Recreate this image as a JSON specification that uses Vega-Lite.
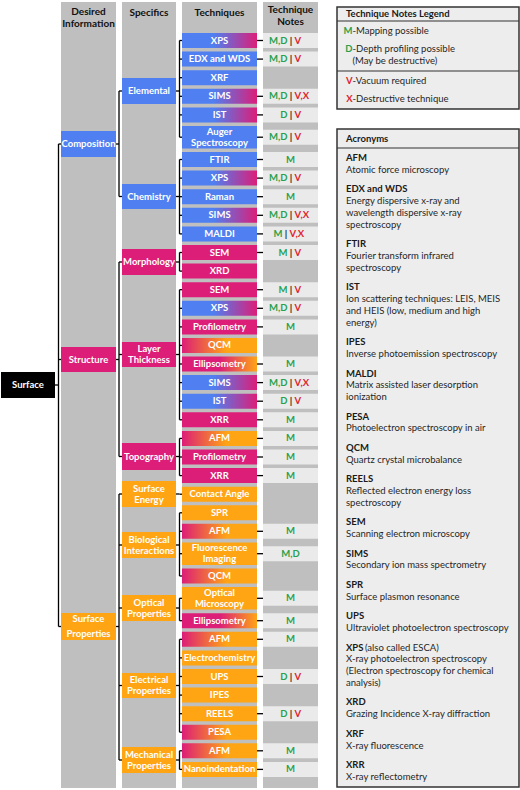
{
"$schema": "https://vega.github.io/schema/vega-lite/v6.json",
"width": 520, "height": 790, "padding": 0,
"autosize": {"type": "fit", "contains": "padding"},
"background": "#FFFFFF",
"config": {"view": {"stroke": null}, "axis": {"disable": true}, "text": {"font": "Lato"}},
"datasets": {
"cols": [
{"col": "Desired\nInformation", "x0": 61, "x1": 116, "xc": 88.5, "y0": 2, "y1": 788, "hy": 12},
{"col": "Specifics", "x0": 122, "x1": 176, "xc": 149, "y0": 2, "y1": 788, "hy": 13},
{"col": "Techniques", "x0": 182, "x1": 257, "xc": 219.5, "y0": 2, "y1": 788, "hy": 12.5},
{"col": "Technique\nNotes", "x0": 263, "x1": 318, "xc": 290.5, "y0": 2, "y1": 788, "hy": 10}
],
"surface": [{"name": "Surface", "y0": 372, "y1": 398, "yc": 385}],
"desired": [
{"name": "Composition", "fam": "Composition", "y0": 131, "y1": 157, "yc": 144},
{"name": "Structure", "fam": "Structure", "y0": 347, "y1": 372, "yc": 359.5},
{"name": "Surface\nProperties", "fam": "Surface Properties", "y0": 613, "y1": 640, "yc": 626.5}
],
"specifics": [
{"name": "Elemental", "fam": "Composition", "y0": 78, "y1": 104, "yc": 91},
{"name": "Chemistry", "fam": "Composition", "y0": 184, "y1": 209, "yc": 196.5},
{"name": "Morphology", "fam": "Structure", "y0": 249, "y1": 275, "yc": 262},
{"name": "Layer\nThickness", "fam": "Structure", "y0": 342, "y1": 367, "yc": 354.5},
{"name": "Topography", "fam": "Structure", "y0": 443, "y1": 470, "yc": 456.5},
{"name": "Surface\nEnergy", "fam": "Surface Properties", "y0": 481, "y1": 507, "yc": 494},
{"name": "Biological\nInteractions", "fam": "Surface Properties", "y0": 532, "y1": 558, "yc": 545},
{"name": "Optical\nProperties", "fam": "Surface Properties", "y0": 595, "y1": 621, "yc": 608},
{"name": "Electrical\nProperties", "fam": "Surface Properties", "y0": 673, "y1": 698, "yc": 685.5},
{"name": "Mechanical\nProperties", "fam": "Surface Properties", "y0": 747, "y1": 773, "yc": 760}
],
"tech": [
{"name": "XPS", "group": "Elemental", "fam": "Composition", "fam2": "Structure", "y0": 33, "y1": 48, "yc": 40.5, "m": "M,D", "v": "V"},
{"name": "EDX and WDS", "group": "Elemental", "fam": "Composition", "fam2": "Composition", "y0": 51.6, "y1": 66.6, "yc": 59.1, "m": "M,D", "v": "V"},
{"name": "XRF", "group": "Elemental", "fam": "Composition", "fam2": "Composition", "y0": 70.2, "y1": 85.2, "yc": 77.7},
{"name": "SIMS", "group": "Elemental", "fam": "Composition", "fam2": "Structure", "y0": 88.8, "y1": 103.8, "yc": 96.3, "m": "M,D", "v": "V,X"},
{"name": "IST", "group": "Elemental", "fam": "Composition", "fam2": "Structure", "y0": 107.4, "y1": 122.4, "yc": 114.9, "m": "D", "v": "V"},
{"name": "Auger\nSpectroscopy", "group": "Elemental", "fam": "Composition", "fam2": "Composition", "y0": 126, "y1": 148.5, "yc": 137.2, "m": "M,D", "v": "V"},
{"name": "FTIR", "group": "Chemistry", "fam": "Composition", "fam2": "Composition", "y0": 152, "y1": 167, "yc": 159.5, "m": "M"},
{"name": "XPS", "group": "Chemistry", "fam": "Composition", "fam2": "Structure", "y0": 170.6, "y1": 185.6, "yc": 178.1, "m": "M,D", "v": "V"},
{"name": "Raman", "group": "Chemistry", "fam": "Composition", "fam2": "Composition", "y0": 189.2, "y1": 204.2, "yc": 196.7, "m": "M"},
{"name": "SIMS", "group": "Chemistry", "fam": "Composition", "fam2": "Structure", "y0": 207.8, "y1": 222.8, "yc": 215.3, "m": "M,D", "v": "V,X"},
{"name": "MALDI", "group": "Chemistry", "fam": "Composition", "fam2": "Composition", "y0": 226.4, "y1": 241.4, "yc": 233.9, "m": "M", "v": "V,X"},
{"name": "SEM", "group": "Morphology", "fam": "Structure", "fam2": "Structure", "y0": 245, "y1": 260, "yc": 252.5, "m": "M", "v": "V"},
{"name": "XRD", "group": "Morphology", "fam": "Structure", "fam2": "Structure", "y0": 263.6, "y1": 278.6, "yc": 271.1},
{"name": "SEM", "group": "Layer Thickness", "fam": "Structure", "fam2": "Structure", "y0": 282.2, "y1": 297.2, "yc": 289.7, "m": "M", "v": "V"},
{"name": "XPS", "group": "Layer Thickness", "fam": "Composition", "fam2": "Structure", "y0": 300.8, "y1": 315.8, "yc": 308.3, "m": "M,D", "v": "V"},
{"name": "Profilometry", "group": "Layer Thickness", "fam": "Structure", "fam2": "Structure", "y0": 319.4, "y1": 334.4, "yc": 326.9, "m": "M"},
{"name": "QCM", "group": "Layer Thickness", "fam": "Structure", "fam2": "Surface Properties", "y0": 337.9, "y1": 352.9, "yc": 345.4},
{"name": "Ellipsometry", "group": "Layer Thickness", "fam": "Structure", "fam2": "Surface Properties", "y0": 356.5, "y1": 371.5, "yc": 364, "m": "M"},
{"name": "SIMS", "group": "Layer Thickness", "fam": "Composition", "fam2": "Structure", "y0": 375.1, "y1": 390.1, "yc": 382.6, "m": "M,D", "v": "V,X"},
{"name": "IST", "group": "Layer Thickness", "fam": "Composition", "fam2": "Structure", "y0": 393.7, "y1": 408.7, "yc": 401.2, "m": "D", "v": "V"},
{"name": "XRR", "group": "Layer Thickness", "fam": "Structure", "fam2": "Structure", "y0": 412.3, "y1": 427.3, "yc": 419.8, "m": "M"},
{"name": "AFM", "group": "Topography", "fam": "Structure", "fam2": "Surface Properties", "y0": 430.9, "y1": 445.9, "yc": 438.4, "m": "M"},
{"name": "Profilometry", "group": "Topography", "fam": "Structure", "fam2": "Structure", "y0": 449.5, "y1": 464.5, "yc": 457, "m": "M"},
{"name": "XRR", "group": "Topography", "fam": "Structure", "fam2": "Structure", "y0": 468.1, "y1": 483.1, "yc": 475.6, "m": "M"},
{"name": "Contact Angle", "group": "Surface Energy", "fam": "Surface Properties", "fam2": "Surface Properties", "y0": 486.7, "y1": 501.7, "yc": 494.2},
{"name": "SPR", "group": "Biological Interactions", "fam": "Surface Properties", "fam2": "Surface Properties", "y0": 505.3, "y1": 520.3, "yc": 512.8},
{"name": "AFM", "group": "Biological Interactions", "fam": "Structure", "fam2": "Surface Properties", "y0": 523.8, "y1": 538.8, "yc": 531.3, "m": "M"},
{"name": "Fluorescence\nImaging", "group": "Biological Interactions", "fam": "Surface Properties", "fam2": "Surface Properties", "y0": 542.4, "y1": 564.9, "yc": 553.7, "m": "M,D"},
{"name": "QCM", "group": "Biological Interactions", "fam": "Structure", "fam2": "Surface Properties", "y0": 568.5, "y1": 583.5, "yc": 576},
{"name": "Optical\nMicroscopy", "group": "Optical Properties", "fam": "Surface Properties", "fam2": "Surface Properties", "y0": 587.1, "y1": 609.6, "yc": 598.3, "m": "M"},
{"name": "Ellipsometry", "group": "Optical Properties", "fam": "Structure", "fam2": "Surface Properties", "y0": 613.2, "y1": 628.2, "yc": 620.7, "m": "M"},
{"name": "AFM", "group": "Electrical Properties", "fam": "Structure", "fam2": "Surface Properties", "y0": 631.8, "y1": 646.8, "yc": 639.3, "m": "M"},
{"name": "Electrochemistry", "group": "Electrical Properties", "fam": "Surface Properties", "fam2": "Surface Properties", "y0": 650.4, "y1": 665.4, "yc": 657.9},
{"name": "UPS", "group": "Electrical Properties", "fam": "Surface Properties", "fam2": "Surface Properties", "y0": 669, "y1": 684, "yc": 676.5, "m": "D", "v": "V"},
{"name": "IPES", "group": "Electrical Properties", "fam": "Surface Properties", "fam2": "Surface Properties", "y0": 687.6, "y1": 702.6, "yc": 695.1},
{"name": "REELS", "group": "Electrical Properties", "fam": "Surface Properties", "fam2": "Surface Properties", "y0": 706.2, "y1": 721.2, "yc": 713.7, "m": "D", "v": "V"},
{"name": "PESA", "group": "Electrical Properties", "fam": "Structure", "fam2": "Surface Properties", "y0": 724.7, "y1": 739.7, "yc": 732.2},
{"name": "AFM", "group": "Mechanical Properties", "fam": "Structure", "fam2": "Surface Properties", "y0": 743.3, "y1": 758.3, "yc": 750.8, "m": "M"},
{"name": "Nanoindentation", "group": "Mechanical Properties", "fam": "Surface Properties", "fam2": "Surface Properties", "y0": 761.9, "y1": 776.9, "yc": 769.4, "m": "M"}
],
"boxes": [{"y0": 7, "y1": 109}, {"y0": 129, "y1": 787}],
"seps": [{"y": 21}, {"y": 71}, {"y": 148}],
"titles": [{"t": "Technique Notes Legend", "y": 14}, {"t": "Acronyms", "y": 138.5}],
"legend": [
{"key": "M", "kind": "good", "desc": "-Mapping possible", "y": 31},
{"key": "D", "kind": "good", "desc": "-Depth profiling possible", "y": 49},
{"desc": "(May be destructive)", "y": 61},
{"key": "V", "kind": "bad", "desc": "-Vacuum required", "y": 81},
{"key": "X", "kind": "bad", "desc": "-Destructive technique", "y": 99}
],
"acr": [
{"kind": "term", "t": "AFM", "y": 158},
{"kind": "def", "t": "Atomic force microscopy", "y": 169.8},
{"kind": "term", "t": "EDX and WDS", "y": 189.3},
{"kind": "def", "t": "Energy dispersive x-ray and", "y": 201.1},
{"kind": "def", "t": "wavelength dispersive x-ray", "y": 212.9},
{"kind": "def", "t": "spectroscopy", "y": 224.7},
{"kind": "term", "t": "FTIR", "y": 244.2},
{"kind": "def", "t": "Fourier transform infrared", "y": 256},
{"kind": "def", "t": "spectroscopy", "y": 267.8},
{"kind": "term", "t": "IST", "y": 287.3},
{"kind": "def", "t": "Ion scattering techniques: LEIS, MEIS", "y": 299.1},
{"kind": "def", "t": "and HEIS (low, medium and high", "y": 310.9},
{"kind": "def", "t": "energy)", "y": 322.7},
{"kind": "term", "t": "IPES", "y": 342.2},
{"kind": "def", "t": "Inverse photoemission spectroscopy", "y": 354},
{"kind": "term", "t": "MALDI", "y": 373.5},
{"kind": "def", "t": "Matrix assisted laser desorption", "y": 385.3},
{"kind": "def", "t": "ionization", "y": 397.1},
{"kind": "term", "t": "PESA", "y": 416.6},
{"kind": "def", "t": "Photoelectron spectroscopy in air", "y": 428.4},
{"kind": "term", "t": "QCM", "y": 447.9},
{"kind": "def", "t": "Quartz crystal microbalance", "y": 459.7},
{"kind": "term", "t": "REELS", "y": 479.2},
{"kind": "def", "t": "Reflected electron energy loss", "y": 491},
{"kind": "def", "t": "spectroscopy", "y": 502.8},
{"kind": "term", "t": "SEM", "y": 522.3},
{"kind": "def", "t": "Scanning electron microscopy", "y": 534.1},
{"kind": "term", "t": "SIMS", "y": 553.6},
{"kind": "def", "t": "Secondary ion mass spectrometry", "y": 565.4},
{"kind": "term", "t": "SPR", "y": 584.9},
{"kind": "def", "t": "Surface plasmon resonance", "y": 596.7},
{"kind": "term", "t": "UPS", "y": 616.2},
{"kind": "def", "t": "Ultraviolet photoelectron spectroscopy", "y": 628},
{"kind": "term", "t": "XPS", "y": 647.5},
{"kind": "aside", "t": "(also called ESCA)", "y": 647.5},
{"kind": "def", "t": "X-ray photoelectron spectroscopy", "y": 659.3},
{"kind": "def", "t": "(Electron spectroscopy for chemical", "y": 671.1},
{"kind": "def", "t": "analysis)", "y": 682.9},
{"kind": "term", "t": "XRD", "y": 702.4},
{"kind": "def", "t": "Grazing Incidence X-ray diffraction", "y": 714.2},
{"kind": "term", "t": "XRF", "y": 733.7},
{"kind": "def", "t": "X-ray fluorescence", "y": 745.5},
{"kind": "term", "t": "XRR", "y": 765},
{"kind": "def", "t": "X-ray reflectometry", "y": 776.8}
]
},
"layer": [
{"data": {"name": "cols"}, "mark": {"type": "rect", "color": "#BFBFBF"},
 "encoding": {"x": {"field": "x0", "type": "quantitative", "scale": {"domain": [0, 520], "nice": false, "zero": false}, "axis": null}, "x2": {"field": "x1"},
  "y": {"field": "y0", "type": "quantitative", "scale": {"domain": [0, 790], "nice": false, "zero": false, "reverse": true}, "axis": null}, "y2": {"field": "y1"}}},
{"data": {"name": "cols"}, "mark": {"type": "text", "fontWeight": "bold", "fontSize": 10, "color": "#111111", "lineBreak": "\n", "lineHeight": 11.5, "baseline": "middle", "align": "center"},
 "encoding": {"x": {"field": "xc", "type": "quantitative"}, "y": {"field": "hy", "type": "quantitative"}, "text": {"field": "col"}}},
{"data": {"name": "tech"}, "transform": [{"filter": "isValid(datum.m)"}], "mark": {"type": "rect", "color": "#EAEAEA", "height": 15},
 "encoding": {"x": {"datum": 263, "type": "quantitative"}, "x2": {"datum": 318}, "y": {"field": "yc", "type": "quantitative"}}},
{"data": {"name": "tech"}, "transform": [{"filter": "datum.fam === datum.fam2"}], "mark": {"type": "rect"},
 "encoding": {"x": {"datum": 182, "type": "quantitative"}, "x2": {"datum": 257}, "y": {"field": "y0", "type": "quantitative"}, "y2": {"field": "y1"},
  "color": {"field": "fam", "type": "nominal", "scale": {"domain": ["Composition", "Structure", "Surface Properties"], "range": ["#4F7FF0", "#DC1E78", "#FFA514"]}, "legend": null}}},
{"data": {"name": "tech"}, "transform": [{"filter": "datum.fam === 'Composition' && datum.fam2 === 'Structure'"}],
 "mark": {"type": "rect", "fill": {"gradient": "linear", "x1": 0, "y1": 0, "x2": 1, "y2": 0, "stops": [{"offset": 0, "color": "#4F7FF0"}, {"offset": 0.42, "color": "#4F7FF0"}, {"offset": 1, "color": "#DC1E78"}]}},
 "encoding": {"x": {"datum": 182, "type": "quantitative"}, "x2": {"datum": 257}, "y": {"field": "y0", "type": "quantitative"}, "y2": {"field": "y1"}}},
{"data": {"name": "tech"}, "transform": [{"filter": "datum.fam === 'Structure' && datum.fam2 === 'Surface Properties' && datum.name !== 'Ellipsometry'"}],
 "mark": {"type": "rect", "fill": {"gradient": "linear", "x1": 0, "y1": 0, "x2": 1, "y2": 0, "stops": [{"offset": 0, "color": "#DC1E78"}, {"offset": 0.6, "color": "#FFA514"}, {"offset": 1, "color": "#FFA514"}]}},
 "encoding": {"x": {"datum": 182, "type": "quantitative"}, "x2": {"datum": 257}, "y": {"field": "y0", "type": "quantitative"}, "y2": {"field": "y1"}}},
{"data": {"name": "tech"}, "transform": [{"filter": "datum.fam === 'Structure' && datum.fam2 === 'Surface Properties' && datum.name === 'Ellipsometry'"}],
 "mark": {"type": "rect", "fill": {"gradient": "linear", "x1": 0, "y1": 0, "x2": 1, "y2": 0, "stops": [{"offset": 0, "color": "#DC1E78"}, {"offset": 0.5, "color": "#DC1E78"}, {"offset": 1, "color": "#FFA514"}]}},
 "encoding": {"x": {"datum": 182, "type": "quantitative"}, "x2": {"datum": 257}, "y": {"field": "y0", "type": "quantitative"}, "y2": {"field": "y1"}}},
{"data": {"name": "tech"}, "transform": [{"filter": "indexof(datum.name, '\\n') < 0"}], "mark": {"type": "text", "fontWeight": "bold", "fontSize": 9.5, "color": "#FFFFFF", "baseline": "middle", "align": "center"},
 "encoding": {"x": {"datum": 219.5, "type": "quantitative"}, "y": {"field": "yc", "type": "quantitative"}, "text": {"field": "name"}}},
{"data": {"name": "tech"}, "transform": [{"filter": "indexof(datum.name, '\\n') >= 0"}], "mark": {"type": "text", "fontWeight": "bold", "fontSize": 9.5, "color": "#FFFFFF", "lineBreak": "\n", "lineHeight": 11, "dy": -5.5, "baseline": "middle", "align": "center"},
 "encoding": {"x": {"datum": 219.5, "type": "quantitative"}, "y": {"field": "yc", "type": "quantitative"}, "text": {"field": "name"}}},
{"data": {"name": "specifics"}, "mark": {"type": "rect"},
 "encoding": {"x": {"datum": 122, "type": "quantitative"}, "x2": {"datum": 176}, "y": {"field": "y0", "type": "quantitative"}, "y2": {"field": "y1"},
  "color": {"field": "fam", "type": "nominal", "legend": null}}},
{"data": {"name": "specifics"}, "transform": [{"filter": "indexof(datum.name, '\\n') < 0"}], "mark": {"type": "text", "fontWeight": "bold", "fontSize": 9.5, "color": "#FFFFFF", "baseline": "middle", "align": "center"},
 "encoding": {"x": {"datum": 149, "type": "quantitative"}, "y": {"field": "yc", "type": "quantitative"}, "text": {"field": "name"}}},
{"data": {"name": "specifics"}, "transform": [{"filter": "indexof(datum.name, '\\n') >= 0"}], "mark": {"type": "text", "fontWeight": "bold", "fontSize": 9.5, "color": "#FFFFFF", "lineBreak": "\n", "lineHeight": 11, "dy": -5.5, "baseline": "middle", "align": "center"},
 "encoding": {"x": {"datum": 149, "type": "quantitative"}, "y": {"field": "yc", "type": "quantitative"}, "text": {"field": "name"}}},
{"data": {"name": "desired"}, "mark": {"type": "rect"},
 "encoding": {"x": {"datum": 61, "type": "quantitative"}, "x2": {"datum": 116}, "y": {"field": "y0", "type": "quantitative"}, "y2": {"field": "y1"},
  "color": {"field": "fam", "type": "nominal", "legend": null}}},
{"data": {"name": "desired"}, "transform": [{"filter": "indexof(datum.name, '\\n') < 0"}], "mark": {"type": "text", "fontWeight": "bold", "fontSize": 9.5, "color": "#FFFFFF", "baseline": "middle", "align": "center"},
 "encoding": {"x": {"datum": 88.5, "type": "quantitative"}, "y": {"field": "yc", "type": "quantitative"}, "text": {"field": "name"}}},
{"data": {"name": "desired"}, "transform": [{"filter": "indexof(datum.name, '\\n') >= 0"}], "mark": {"type": "text", "fontWeight": "bold", "fontSize": 9.5, "color": "#FFFFFF", "lineBreak": "\n", "lineHeight": 15, "dy": -7.5, "baseline": "middle", "align": "center"},
 "encoding": {"x": {"datum": 88.5, "type": "quantitative"}, "y": {"field": "yc", "type": "quantitative"}, "text": {"field": "name"}}},
{"data": {"name": "surface"}, "mark": {"type": "rect", "color": "#000000"},
 "encoding": {"x": {"datum": 1, "type": "quantitative"}, "x2": {"datum": 55}, "y": {"field": "y0", "type": "quantitative"}, "y2": {"field": "y1"}}},
{"data": {"name": "surface"}, "mark": {"type": "text", "fontWeight": "bold", "fontSize": 9.5, "color": "#FFFFFF", "baseline": "middle", "align": "center"},
 "encoding": {"x": {"datum": 28, "type": "quantitative"}, "y": {"field": "yc", "type": "quantitative"}, "text": {"field": "name"}}},
{"data": {"name": "surface"}, "mark": {"type": "rule", "color": "#000000", "strokeWidth": 1.3},
 "encoding": {"x": {"datum": 55, "type": "quantitative"}, "x2": {"datum": 58.5}, "y": {"field": "yc", "type": "quantitative"}}},
{"data": {"name": "desired"}, "transform": [{"aggregate": [{"op": "min", "field": "yc", "as": "a"}, {"op": "max", "field": "yc", "as": "b"}]}],
 "mark": {"type": "rule", "color": "#000000", "strokeWidth": 1.3},
 "encoding": {"x": {"datum": 58.5, "type": "quantitative"}, "y": {"field": "a", "type": "quantitative"}, "y2": {"field": "b"}}},
{"data": {"name": "desired"}, "mark": {"type": "rule", "color": "#000000", "strokeWidth": 1.3},
 "encoding": {"x": {"datum": 58.5, "type": "quantitative"}, "x2": {"datum": 61}, "y": {"field": "yc", "type": "quantitative"}}},
{"data": {"name": "desired"}, "mark": {"type": "rule", "color": "#000000", "strokeWidth": 1.3},
 "encoding": {"x": {"datum": 116, "type": "quantitative"}, "x2": {"datum": 119}, "y": {"field": "yc", "type": "quantitative"}}},
{"data": {"name": "specifics"}, "transform": [{"aggregate": [{"op": "min", "field": "yc", "as": "a"}, {"op": "max", "field": "yc", "as": "b"}], "groupby": ["fam"]}],
 "mark": {"type": "rule", "color": "#000000", "strokeWidth": 1.3},
 "encoding": {"x": {"datum": 119, "type": "quantitative"}, "y": {"field": "a", "type": "quantitative"}, "y2": {"field": "b"}}},
{"data": {"name": "specifics"}, "mark": {"type": "rule", "color": "#000000", "strokeWidth": 1.3},
 "encoding": {"x": {"datum": 119, "type": "quantitative"}, "x2": {"datum": 122}, "y": {"field": "yc", "type": "quantitative"}}},
{"data": {"name": "specifics"}, "mark": {"type": "rule", "color": "#000000", "strokeWidth": 1.3},
 "encoding": {"x": {"datum": 176, "type": "quantitative"}, "x2": {"datum": 179.5}, "y": {"field": "yc", "type": "quantitative"}}},
{"data": {"name": "tech"}, "transform": [{"aggregate": [{"op": "min", "field": "yc", "as": "a"}, {"op": "max", "field": "yc", "as": "b"}], "groupby": ["group"]}],
 "mark": {"type": "rule", "color": "#000000", "strokeWidth": 1.3},
 "encoding": {"x": {"datum": 179.5, "type": "quantitative"}, "y": {"field": "a", "type": "quantitative"}, "y2": {"field": "b"}}},
{"data": {"name": "tech"}, "mark": {"type": "rule", "color": "#000000", "strokeWidth": 1.3},
 "encoding": {"x": {"datum": 179.5, "type": "quantitative"}, "x2": {"datum": 182}, "y": {"field": "yc", "type": "quantitative"}}},
{"data": {"name": "tech"}, "transform": [{"filter": "isValid(datum.m)"}], "mark": {"type": "rule", "color": "#000000", "strokeWidth": 1.3},
 "encoding": {"x": {"datum": 257, "type": "quantitative"}, "x2": {"datum": 263}, "y": {"field": "yc", "type": "quantitative"}}},
{"data": {"name": "tech"}, "transform": [{"filter": "isValid(datum.v) && !(datum.m === 'M' && datum.v === 'V,X')"}],
 "mark": {"type": "text", "fontWeight": "bold", "fontSize": 9.5, "color": "#2AA04A", "baseline": "middle", "align": "right", "dx": -3.5},
 "encoding": {"x": {"datum": 291, "type": "quantitative"}, "y": {"field": "yc", "type": "quantitative"}, "text": {"field": "m"}}},
{"data": {"name": "tech"}, "transform": [{"filter": "isValid(datum.v) && !(datum.m === 'M' && datum.v === 'V,X')"}],
 "mark": {"type": "text", "fontWeight": "bold", "fontSize": 9.5, "color": "#1A1A1A", "baseline": "middle", "align": "center", "text": "|"},
 "encoding": {"x": {"datum": 291, "type": "quantitative"}, "y": {"field": "yc", "type": "quantitative"}}},
{"data": {"name": "tech"}, "transform": [{"filter": "isValid(datum.v) && !(datum.m === 'M' && datum.v === 'V,X')"}],
 "mark": {"type": "text", "fontWeight": "bold", "fontSize": 9.5, "color": "#E0232B", "baseline": "middle", "align": "left", "dx": 3.5},
 "encoding": {"x": {"datum": 291, "type": "quantitative"}, "y": {"field": "yc", "type": "quantitative"}, "text": {"field": "v"}}},
{"data": {"name": "tech"}, "transform": [{"filter": "datum.m === 'M' && datum.v === 'V,X'"}],
 "mark": {"type": "text", "fontWeight": "bold", "fontSize": 9.5, "color": "#2AA04A", "baseline": "middle", "align": "right", "dx": -3.5},
 "encoding": {"x": {"datum": 286, "type": "quantitative"}, "y": {"field": "yc", "type": "quantitative"}, "text": {"field": "m"}}},
{"data": {"name": "tech"}, "transform": [{"filter": "datum.m === 'M' && datum.v === 'V,X'"}],
 "mark": {"type": "text", "fontWeight": "bold", "fontSize": 9.5, "color": "#1A1A1A", "baseline": "middle", "align": "center", "text": "|"},
 "encoding": {"x": {"datum": 286, "type": "quantitative"}, "y": {"field": "yc", "type": "quantitative"}}},
{"data": {"name": "tech"}, "transform": [{"filter": "datum.m === 'M' && datum.v === 'V,X'"}],
 "mark": {"type": "text", "fontWeight": "bold", "fontSize": 9.5, "color": "#E0232B", "baseline": "middle", "align": "left", "dx": 3.5},
 "encoding": {"x": {"datum": 286, "type": "quantitative"}, "y": {"field": "yc", "type": "quantitative"}, "text": {"field": "v"}}},
{"data": {"name": "tech"}, "transform": [{"filter": "isValid(datum.m) && !isValid(datum.v)"}],
 "mark": {"type": "text", "fontWeight": "bold", "fontSize": 9.5, "color": "#2AA04A", "baseline": "middle", "align": "center"},
 "encoding": {"x": {"datum": 290.5, "type": "quantitative"}, "y": {"field": "yc", "type": "quantitative"}, "text": {"field": "m"}}},
{"data": {"name": "boxes"}, "mark": {"type": "rect", "fill": "#EDEDED", "stroke": "#333333", "strokeWidth": 1.5},
 "encoding": {"x": {"datum": 337, "type": "quantitative"}, "x2": {"datum": 519}, "y": {"field": "y0", "type": "quantitative"}, "y2": {"field": "y1"}}},
{"data": {"name": "seps"}, "mark": {"type": "rule", "color": "#333333", "strokeWidth": 1.2},
 "encoding": {"x": {"datum": 337, "type": "quantitative"}, "x2": {"datum": 519}, "y": {"field": "y", "type": "quantitative"}}},
{"data": {"name": "titles"}, "mark": {"type": "text", "fontWeight": "bold", "fontSize": 9.5, "color": "#1A1A1A", "baseline": "middle", "align": "left"},
 "encoding": {"x": {"datum": 346, "type": "quantitative"}, "y": {"field": "y", "type": "quantitative"}, "text": {"field": "t"}}},
{"data": {"name": "legend"}, "mark": {"type": "text", "fontSize": 9.5, "color": "#262626", "baseline": "middle", "align": "left"},
 "encoding": {"x": {"datum": 352.5, "type": "quantitative"}, "y": {"field": "y", "type": "quantitative"}, "text": {"field": "desc"}}},
{"data": {"name": "legend"}, "transform": [{"filter": "datum.kind === 'good'"}], "mark": {"type": "text", "fontWeight": "bold", "fontSize": 9.5, "color": "#2AA04A", "baseline": "middle", "align": "right"},
 "encoding": {"x": {"datum": 352.5, "type": "quantitative"}, "y": {"field": "y", "type": "quantitative"}, "text": {"field": "key"}}},
{"data": {"name": "legend"}, "transform": [{"filter": "datum.kind === 'bad'"}], "mark": {"type": "text", "fontWeight": "bold", "fontSize": 9.5, "color": "#E0232B", "baseline": "middle", "align": "right"},
 "encoding": {"x": {"datum": 352.5, "type": "quantitative"}, "y": {"field": "y", "type": "quantitative"}, "text": {"field": "key"}}},
{"data": {"name": "acr"}, "transform": [{"filter": "datum.kind === 'term'"}], "mark": {"type": "text", "fontWeight": "bold", "fontSize": 9.5, "color": "#1A1A1A", "baseline": "middle", "align": "left"},
 "encoding": {"x": {"datum": 346, "type": "quantitative"}, "y": {"field": "y", "type": "quantitative"}, "text": {"field": "t"}}},
{"data": {"name": "acr"}, "transform": [{"filter": "datum.kind === 'def'"}], "mark": {"type": "text", "fontSize": 9.5, "color": "#262626", "baseline": "middle", "align": "left"},
 "encoding": {"x": {"datum": 346, "type": "quantitative"}, "y": {"field": "y", "type": "quantitative"}, "text": {"field": "t"}}},
{"data": {"name": "acr"}, "transform": [{"filter": "datum.kind === 'aside'"}], "mark": {"type": "text", "fontSize": 9.5, "color": "#262626", "baseline": "middle", "align": "left", "dx": 19},
 "encoding": {"x": {"datum": 346, "type": "quantitative"}, "y": {"field": "y", "type": "quantitative"}, "text": {"field": "t"}}}
]
}
